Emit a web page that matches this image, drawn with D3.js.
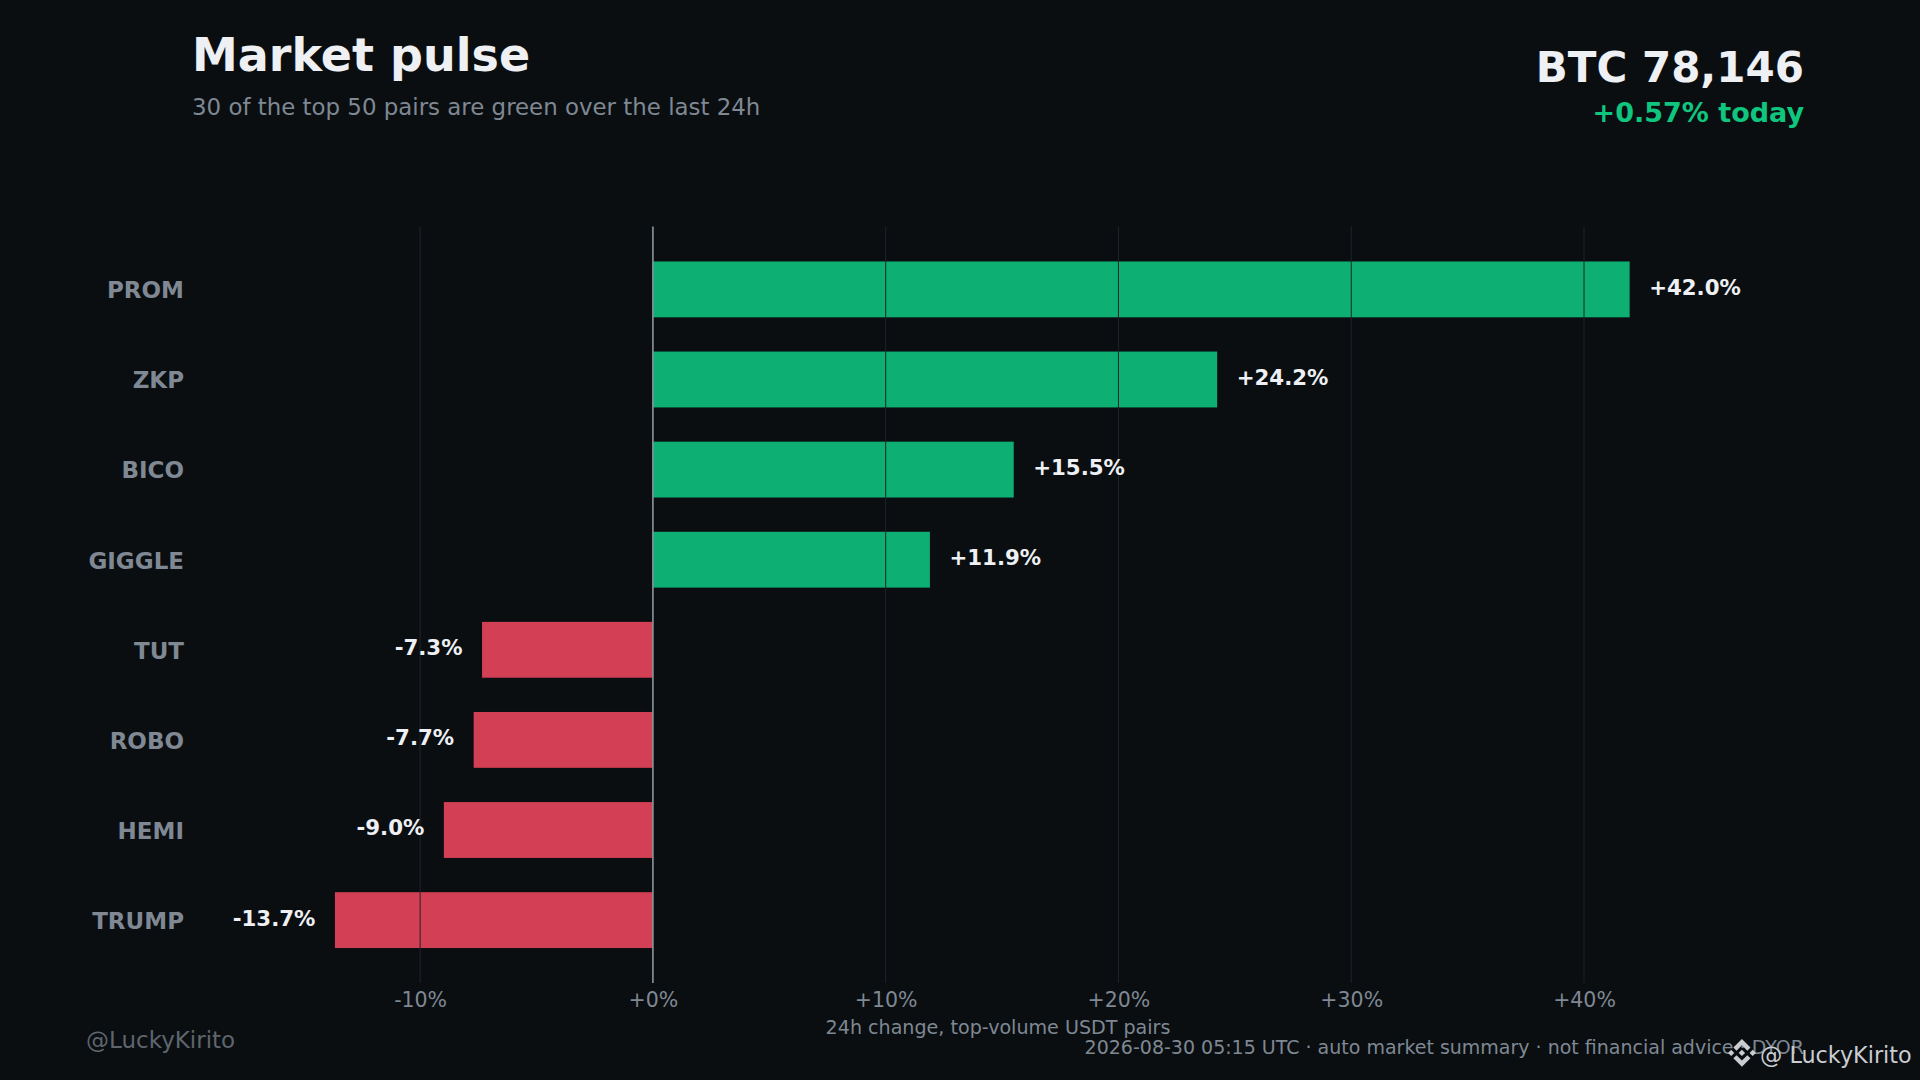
<!DOCTYPE html>
<html>
<head>
<meta charset="utf-8">
<script src="https://cdn.jsdelivr.net/npm/d3@7"></script>
<style>
  html, body { margin: 0; padding: 0; background: #0a0e11; }
  svg { display: block; font-family: "DejaVu Sans", sans-serif; }
</style>
</head>
<body>
<div id="chart-area"></div>
<script>
// DATA
const symbols = ['PROM', 'ZKP', 'BICO', 'GIGGLE', 'TUT', 'ROBO', 'HEMI', 'TRUMP']
const changes = [41.96, 24.24, 15.5, 11.9, -7.34, -7.7, -8.98, -13.66]
const tickValues = [-10, 0, 10, 20, 30, 40]
const xExtent = [-19.8, 49.45]

const fmt = d => (d < 0 ? '' : '+') + d.toFixed(1) + '%'
const tickFmt = d => (d < 0 ? '' : '+') + d + '%'

const WIDTH = 1920
const HEIGHT = 1080
const MARGIN = { LEFT: 192, RIGHT: 116, TOP: 226.5, BOTTOM: 97 }

const BINANCE = 'M38.73 53.2l24.59-24.58 24.6 24.6 14.3-14.31L63.32 0 24.42 38.9l14.31 14.3zM0 63.31l14.3-14.31 14.31 14.31-14.31 14.3zM38.73 73.41l24.59 24.59 24.6-24.6 14.31 14.29-38.9 38.91-38.91-38.88-.02-.02zM98.03 63.31l14.3-14.31 14.31 14.3-14.31 14.32zM77.83 63.3L63.32 48.78 52.59 59.51l-1.24 1.23-2.54 2.54 14.51 14.5 14.51-14.47z'

const svg = d3.select('#chart-area').append('svg')
  .attr('width', WIDTH)
  .attr('height', HEIGHT)

svg.append('rect')
  .attr('width', WIDTH)
  .attr('height', HEIGHT)
  .attr('fill', '#0a0e11')

// SCALES
const x = d3.scaleLinear()
  .domain(xExtent)
  .range([MARGIN.LEFT, WIDTH - MARGIN.RIGHT])
const y = d3.scaleBand()
  .domain(symbols)
  .range([MARGIN.TOP, HEIGHT - MARGIN.BOTTOM])
  .paddingInner(0.38)
  .paddingOuter(0.388)

const data = symbols.map((s, i) => ({ symbol: s, change: changes[i] }))

// BARS
svg.append('g').selectAll('rect')
  .data(data)
  .enter().append('rect')
  .attr('x', d => Math.min(x(0), x(d.change)))
  .attr('y', d => y(d.symbol))
  .attr('width', d => Math.abs(x(d.change) - x(0)))
  .attr('height', y.bandwidth())
  .attr('fill', d => d.change >= 0 ? '#0eaf72' : '#d33f54')

// GRID (sits over the bars)
svg.append('g').selectAll('line')
  .data(tickValues.filter(d => d !== 0))
  .enter().append('line')
  .attr('x1', d => x(d))
  .attr('x2', d => x(d))
  .attr('y1', MARGIN.TOP)
  .attr('y2', HEIGHT - MARGIN.BOTTOM)
  .attr('stroke', '#1e242b')
  .attr('stroke-width', 1)

// ZERO LINE
svg.append('line')
  .attr('x1', x(0))
  .attr('x2', x(0))
  .attr('y1', MARGIN.TOP)
  .attr('y2', HEIGHT - MARGIN.BOTTOM)
  .attr('stroke', '#8b949e')
  .attr('stroke-width', 1.6)

// AXES
const xAxis = d3.axisBottom(x)
  .tickValues(tickValues)
  .tickFormat(tickFmt)
  .tickSize(0)
  .tickPadding(9)
const gx = svg.append('g')
  .attr('transform', `translate(0, ${HEIGHT - MARGIN.BOTTOM})`)
  .call(xAxis)
gx.select('.domain').remove()
gx.selectAll('text')
  .attr('fill', '#7f8893')
  .attr('font-size', '20.5px')
  .attr('font-family', '"DejaVu Sans", sans-serif')

const yAxis = d3.axisLeft(y).tickSize(0).tickPadding(8)
const gy = svg.append('g')
  .attr('transform', `translate(${MARGIN.LEFT}, 1.5)`)
  .call(yAxis)
gy.select('.domain').remove()
gy.selectAll('text')
  .attr('fill', '#7f8893')
  .attr('font-size', '23px')
  .attr('font-weight', 'bold')
  .attr('font-family', '"DejaVu Sans", sans-serif')

// VALUE LABELS
svg.append('g').selectAll('text')
  .data(data)
  .enter().append('text')
  .attr('x', d => x(d.change) + (d.change >= 0 ? 19.5 : -19.5))
  .attr('y', d => y(d.symbol) + y.bandwidth() / 2 - 2)
  .attr('dy', '0.35em')
  .attr('text-anchor', d => d.change >= 0 ? 'start' : 'end')
  .attr('fill', '#eef0f4')
  .attr('font-size', '21.3px')
  .attr('font-weight', 'bold')
  .text(d => fmt(d.change))

// HEADER
const label = (xp, yp, size, fill, txt, anchor = 'start', weight = 'normal') =>
  svg.append('text')
    .attr('x', xp)
    .attr('y', yp)
    .attr('font-size', size + 'px')
    .attr('fill', fill)
    .attr('text-anchor', anchor)
    .attr('font-weight', weight)
    .text(txt)

label(192, 71, 46, '#eef0f4', 'Market pulse', 'start', 'bold')
label(192, 114.5, 22.9, '#7f8893', '30 of the top 50 pairs are green over the last 24h')
label(1804, 82, 42, '#eef0f4', 'BTC 78,146', 'end', 'bold')
label(1804, 122, 27, '#10c67f', '+0.57% today', 'end', 'bold')

// FOOTER
label(998, 1034, 19.1, '#7f8893', '24h change, top-volume USDT pairs', 'middle')
label(1804, 1053.5, 19, '#7f8893', '2026-08-30 05:15 UTC · auto market summary · not financial advice · DYOR', 'end')
label(86, 1048, 23, '#5e656d', '@LuckyKirito')

// WATERMARK
svg.append('path')
  .attr('d', BINANCE)
  .attr('transform', 'translate(1728, 1039) scale(0.22)')
  .attr('fill', '#c9ccd0')
label(1760, 1063, 22.3, '#c9ccd0', '@ LuckyKirito')
</script>
</body>
</html>
